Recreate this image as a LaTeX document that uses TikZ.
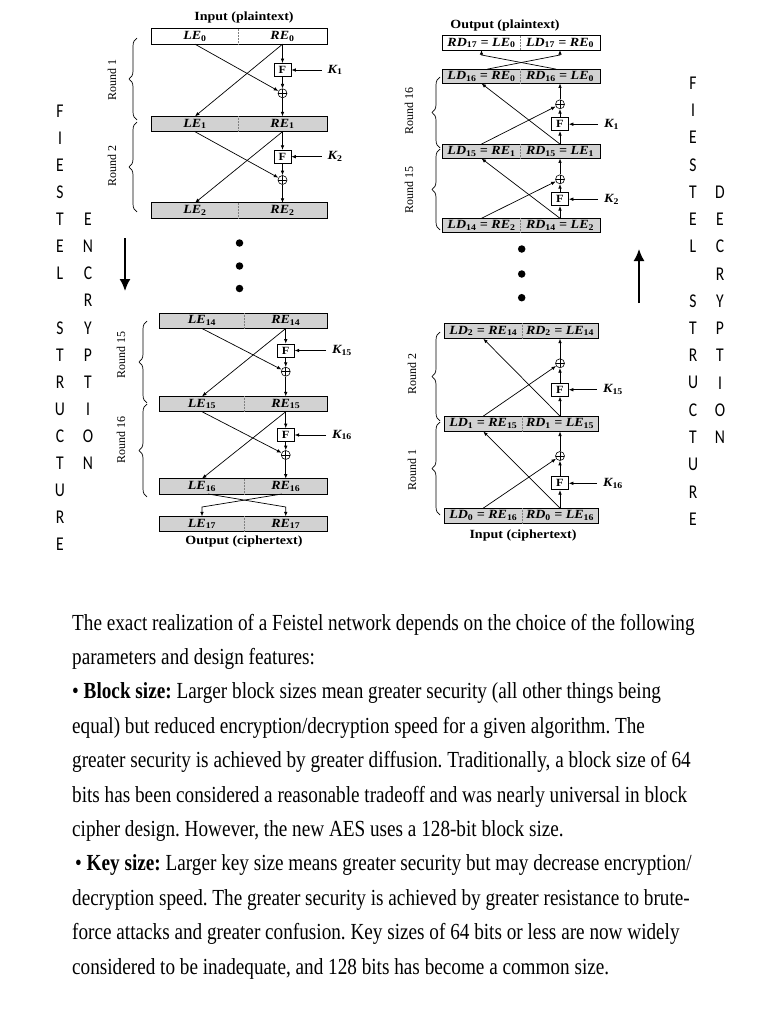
\documentclass[tikz,border=0pt]{standalone}
\usepackage{fontspec}
\usetikzlibrary{arrows.meta, positioning, decorations.pathreplacing}
\definecolor{boxg}{HTML}{D2D2D2}
\newfontfamily\dfont[FakeStretch=1.12]{Liberation Serif}
\newfontfamily\rfont{Liberation Serif}
\newfontfamily\parafont[FakeStretch=0.835]{Liberation Serif}
\newfontfamily\sidefont[FakeStretch=0.8]{Carlito}
\newcommand{\sublab}[2]{#1\textsubscript{\upshape #2}}
\frenchspacing

\begin{document}
\begin{tikzpicture}[
    x=1pt, y=-1pt,
    >={Latex[length=4.5pt, width=3.6pt]},
    every node/.style={inner sep=0pt},
    half/.style={minimum height=15pt, font=\dfont\bfseries\itshape\fontsize{12.5}{13}\selectfont},
    frm/.style={line width=0.8pt},
    divd/.style={densely dotted, line width=0.5pt, gray},
    fbx/.style={draw, fill=white, line width=0.7pt, minimum width=17pt, minimum height=13pt, font=\dfont\bfseries\fontsize{11}{11}\selectfont},
    xor/.style={circle, draw, fill=white, line width=0.6pt, minimum size=9pt,
      path picture={\draw[line width=0.6pt] (path picture bounding box.north) -- (path picture bounding box.south)
        (path picture bounding box.west) -- (path picture bounding box.east);}},
    klab/.style={anchor=west, inner xsep=6pt, font=\dfont\bfseries\itshape\fontsize{12.5}{13}\selectfont},
    ttl/.style={font=\dfont\bfseries\fontsize{12.5}{13}\selectfont},
    rnd/.style={rotate=90, font=\rfont\fontsize{12}{12}\selectfont},
    brc/.style={decorate, decoration={brace, amplitude=8pt}, line width=0.7pt},
    flow/.style={->, line width=0.7pt},
    bigarr/.style={-{Latex[length=12pt, width=11pt]}, line width=1.6pt},
    dot/.style={circle, fill, minimum size=7.5pt},
    side/.style={font=\sidefont\fontsize{19.5}{19.5}\selectfont},
    para/.style={anchor=base west, font=\parafont\fontsize{23}{23}\selectfont}]

  \fill[white] (0,0) rectangle (768,1024);
  \useasboundingbox (0,0) rectangle (768,1024);

  % ---- encryption, rounds 1 and 2
  \node[ttl] (tin) at (244,17) {Input (plaintext)};
  \foreach \n/\yy/\fc/\a/\b in {e0/36.5/white/{\sublab{LE}{0}}/{\sublab{RE}{0}},
      e1/124/boxg/{\sublab{LE}{1}}/{\sublab{RE}{1}}, e2/210.5/boxg/{\sublab{LE}{2}}/{\sublab{RE}{2}}} {
    \node[half, fill=\fc, minimum width=86pt] (\n-l) at (195,\yy) {\a};
    \node[half, fill=\fc, minimum width=89pt] (\n-r) at (282.5,\yy) {\b};
    \draw[frm] (\n-l.north west) rectangle (\n-r.south east);
    \draw[divd] (\n-l.north east) -- (\n-l.south east);
  }
  \node[fbx] (f1) at (282.5,70) {F};
  \node[xor] (x1) at (282.5,93.3) {};
  \node[klab] (k1) at (321.5,70) {\sublab{K}{1}};
  \node[fbx] (f2) at (282.5,156.7) {F};
  \node[xor] (x2) at (282.5,180) {};
  \node[klab] (k2) at (321.5,156.7) {\sublab{K}{2}};
  \foreach \a/\b/\r in {e0/e1/1, e1/e2/2} {
    \draw[flow] (\a-r.south) -- (f\r);
    \draw[flow] (f\r) -- (x\r);
    \draw[flow] (x\r) -- (\b-r.north);
    \draw[flow] (\a-l.south) -- (x\r);
    \draw[flow] (\a-r.south) -- (\b-l.north);
    \draw[flow] (k\r) -- (f\r);
  }
  \draw[brc] (137,120) -- (137,38);
  \draw[brc] (137,212) -- (137,122);
  \node[rnd] (r1) at (112,80) {Round 1};
  \node[rnd] (r2) at (112,166) {Round 2};

  % ---- encryption, rounds 15 and 16
  \foreach \n/\yy/\a/\b in {e14/320.8/{\sublab{LE}{14}}/{\sublab{RE}{14}},
      e15/404/{\sublab{LE}{15}}/{\sublab{RE}{15}}, e16/486.3/{\sublab{LE}{16}}/{\sublab{RE}{16}},
      e17/524/{\sublab{LE}{17}}/{\sublab{RE}{17}}} {
    \node[half, fill=boxg, minimum width=84pt] (\n-l) at (202,\yy) {\a};
    \node[half, fill=boxg, minimum width=83.5pt] (\n-r) at (285.75,\yy) {\b};
    \draw[frm] (\n-l.north west) rectangle (\n-r.south east);
    \draw[divd] (\n-l.north east) -- (\n-l.south east);
  }
  \node[fbx] (f15) at (285.75,350.5) {F};
  \node[xor] (x15) at (285.75,371.7) {};
  \node[klab] (k15) at (326,350.5) {\sublab{K}{15}};
  \node[fbx] (f16) at (285.75,435) {F};
  \node[xor] (x16) at (285.75,455) {};
  \node[klab] (k16) at (326,435) {\sublab{K}{16}};
  \foreach \a/\b/\r in {e14/e15/15, e15/e16/16} {
    \draw[flow] (\a-r.south) -- (f\r);
    \draw[flow] (f\r) -- (x\r);
    \draw[flow] (x\r) -- (\b-r.north);
    \draw[flow] (\a-l.south) -- (x\r);
    \draw[flow] (\a-r.south) -- (\b-l.north);
    \draw[flow] (k\r) -- (f\r);
  }
  \coordinate (sw1) at (0,507);
  \draw[flow] ([xshift=6pt]e16-l.south) -- (e17-r.north |- sw1) -- (e17-r.north);
  \draw[flow] ([xshift=-4pt]e16-r.south) -- (e17-l.north |- sw1) -- (e17-l.north);
  \node[ttl] (tout) at (244,541) {Output (ciphertext)};
  \draw[brc] (147,403) -- (147,321);
  \draw[brc] (147,497) -- (147,404);
  \node[rnd] (r15) at (121,355) {Round 15};
  \node[rnd] (r16) at (121,440) {Round 16};

  % ---- decryption, rounds 16 and 15
  \node[ttl] (dout) at (505,25) {Output (plaintext)};
  \foreach \n/\yy/\fc/\a/\b in {do/43/white/{\sublab{RD}{17} = \sublab{LE}{0}}/{\sublab{LD}{17} = \sublab{RE}{0}},
      d16/76.3/boxg/{\sublab{LD}{16} = \sublab{RE}{0}}/{\sublab{RD}{16} = \sublab{LE}{0}},
      d15/151.3/boxg/{\sublab{LD}{15} = \sublab{RE}{1}}/{\sublab{RD}{15} = \sublab{LE}{1}},
      d14/225.5/boxg/{\sublab{LD}{14} = \sublab{RE}{2}}/{\sublab{RD}{14} = \sublab{LE}{2}}} {
    \node[half, fill=\fc, minimum width=77pt, minimum height=14pt] (\n-l) at (481.5,\yy) {\a};
    \node[half, fill=\fc, minimum width=80pt, minimum height=14pt] (\n-r) at (560,\yy) {\b};
    \draw[frm] (\n-l.north west) rectangle (\n-r.south east);
    \draw[divd] (\n-l.north east) -- (\n-l.south east);
  }
  \node[xor] (xd1) at (560,104.3) {};
  \node[fbx] (fd1) at (560,124.2) {F};
  \node[klab] (kd1) at (598,124.2) {\sublab{K}{1}};
  \node[xor] (xd2) at (560,179.3) {};
  \node[fbx] (fd2) at (560,199.2) {F};
  \node[klab] (kd2) at (598,199.2) {\sublab{K}{2}};
  \foreach \a/\b/\r in {d15/d16/1, d14/d15/2} {
    \draw[flow] (\a-r.north) -- (fd\r);
    \draw[flow] (fd\r) -- (xd\r);
    \draw[flow] (xd\r) -- (\b-r.south);
    \draw[flow] (\a-l.north) -- (xd\r);
    \draw[flow] (\a-r.north) -- (\b-l.south);
    \draw[flow] (kd\r) -- (fd\r);
  }
  \coordinate (sw2) at (0,55);
  \draw[flow] ([xshift=6pt]d16-l.north) -- (do-r.south |- sw2) -- (do-r.south);
  \draw[flow] ([xshift=-4pt]d16-r.north) -- (do-l.south |- sw2) -- (do-l.south);
  \draw[brc] (440,148) -- (440,77);
  \draw[brc] (440,230) -- (440,149);
  \node[rnd] (rd16) at (409,111) {Round 16};
  \node[rnd] (rd15) at (409,190) {Round 15};

  % ---- decryption, rounds 2 and 1
  \foreach \n/\yy/\a/\b in {d2/331/{\sublab{LD}{2} = \sublab{RE}{14}}/{\sublab{RD}{2} = \sublab{LE}{14}},
      d1/423.8/{\sublab{LD}{1} = \sublab{RE}{15}}/{\sublab{RD}{1} = \sublab{LE}{15}},
      d0/515.8/{\sublab{LD}{0} = \sublab{RE}{16}}/{\sublab{RD}{0} = \sublab{LE}{16}}} {
    \node[half, fill=boxg, minimum width=76.6pt] (\n-l) at (483.3,\yy) {\a};
    \node[half, fill=boxg, minimum width=76.8pt] (\n-r) at (560,\yy) {\b};
    \draw[frm] (\n-l.north west) rectangle (\n-r.south east);
    \draw[divd] (\n-l.north east) -- (\n-l.south east);
  }
  \node[xor] (xd15) at (560,363.3) {};
  \node[fbx] (fd15) at (560,389.7) {F};
  \node[klab] (kd15) at (597,389.7) {\sublab{K}{15}};
  \node[xor] (xd16) at (560,456) {};
  \node[fbx] (fd16) at (560,483.3) {F};
  \node[klab] (kd16) at (597,483.3) {\sublab{K}{16}};
  \foreach \a/\b/\r in {d1/d2/15, d0/d1/16} {
    \draw[flow] (\a-r.north) -- (fd\r);
    \draw[flow] (fd\r) -- (xd\r);
    \draw[flow] (xd\r) -- (\b-r.south);
    \draw[flow] (\a-l.north) -- (xd\r);
    \draw[flow] (\a-r.north) -- (\b-l.south);
    \draw[flow] (kd\r) -- (fd\r);
  }
  \node[ttl] (din) at (523,535) {Input (ciphertext)};
  \draw[brc] (440,421) -- (440,332);
  \draw[brc] (440,515) -- (440,422);
  \node[rnd] (rd2) at (412,374) {Round 2};
  \node[rnd] (rd1) at (412,470) {Round 1};

  % dots and direction arrows
  \foreach \yy [count=\i] in {243,266,288.5} \node[dot] (ldot\i) at (239.5,\yy) {};
  \foreach \yy [count=\i] in {249,274,297.7} \node[dot] (rdot\i) at (521.7,\yy) {};
  \coordinate (da1) at (125,238);
  \coordinate (da2) at (125,291);
  \draw[bigarr] (da1) -- (da2);
  \coordinate (ua1) at (639,303);
  \coordinate (ua2) at (639,249);
  \draw[bigarr] (ua1) -- (ua2);

  % vertical side titles
  \foreach \ch [count=\k from 0] in {F,I,E,S,T,E,L} \node[side] (lf-\k) at (60,111+27.1*\k) {\ch};
  \foreach \ch [count=\k from 8] in {S,T,R,U,C,T,U,R,E} \node[side] (lf-\k) at (60,111+27.1*\k) {\ch};
  \foreach \ch [count=\k from 4] in {E,N,C,R,Y,P,T,I,O,N} \node[side] (le-\k) at (88,111+27.1*\k) {\ch};
  \foreach \ch [count=\k from 0] in {F,I,E,S,T,E,L} \node[side] (rf-\k) at (693,83+27.25*\k) {\ch};
  \foreach \ch [count=\k from 8] in {S,T,R,U,C,T,U,R,E} \node[side] (rf-\k) at (693,83+27.25*\k) {\ch};
  \foreach \ch [count=\k from 4] in {D,E,C,R,Y,P,T,I,O,N} \node[side] (rd-\k) at (720,83+27.25*\k) {\ch};

  % text below
  \foreach \txt [count=\i from 0] in {
      {The exact realization of a Feistel network depends on the choice of the following},
      {parameters and design features:},
      {• \textbf{Block size:} Larger block sizes mean greater security (all other things being},
      {equal) but reduced encryption/decryption speed for a given algorithm. The},
      {greater security is achieved by greater diffusion. Traditionally, a block size of 64},
      {bits has been considered a reasonable tradeoff and was nearly universal in block},
      {cipher design. However, the new AES uses a 128-bit block size.},
      {\hspace*{3pt}• \textbf{Key size:} Larger key size means greater security but may decrease encryption/},
      {decryption speed. The greater security is achieved by greater resistance to brute-},
      {force attacks and greater confusion. Key sizes of 64 bits or less are now widely},
      {considered to be inadequate, and 128 bits has become a common size.}}
    \node[para] (p\i) at (72,630+34.4*\i) {\txt};
\end{tikzpicture}
\end{document}
